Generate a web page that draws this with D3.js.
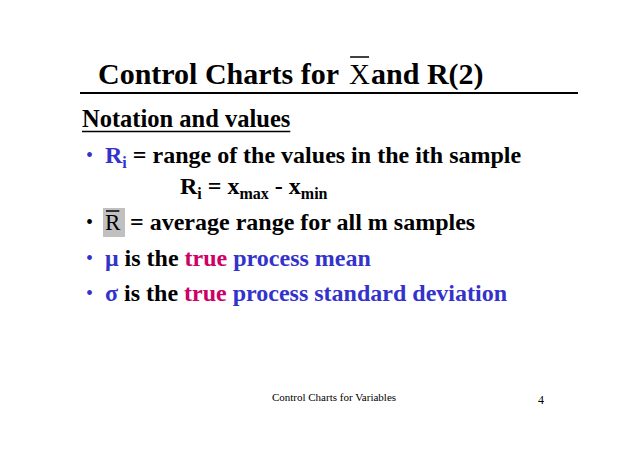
<!DOCTYPE html>
<html>
<head>
<meta charset="utf-8">
<script src="https://cdnjs.cloudflare.com/ajax/libs/d3/7.8.5/d3.min.js"></script>
<style>
  html, body { margin: 0; padding: 0; background: #fff; }
</style>
</head>
<body>
<div id="slide"></div>
<script>
// slide content
var SERIF = '"Liberation Serif", "Times New Roman", serif';
var BLUE = '#3333cc', RED = '#cc0066', BLACK = '#000';

var titleLeft = 'Control Charts for';
var titleSymbol = 'X';
var titleRight = 'and R(2)';
var heading = 'Notation and values';

// each line: bullet colour (null = none), indent, runs of text
var lines = [
    {bullet: BLUE, x: 105, runs: [
        {t: 'R', c: BLUE}, {t: 'i', c: BLUE, sub: true},
        {t: ' = range of the values in the ith sample', c: BLACK}]},
    {bullet: null, x: 180, runs: [
        {t: 'R', c: BLACK}, {t: 'i', c: BLACK, sub: true},
        {t: ' = x', c: BLACK}, {t: 'max', c: BLACK, sub: true},
        {t: ' - x', c: BLACK}, {t: 'min', c: BLACK, sub: true}]},
    {bullet: BLACK, x: 130, runs: [
        {t: '= average range for all m samples', c: BLACK}]},
    {bullet: BLUE, x: 105, runs: [
        {t: 'μ', c: BLUE}, {t: ' is the ', c: BLACK}, {t: 'true', c: RED},
        {t: ' process mean', c: BLUE}]},
    {bullet: BLUE, x: 105, runs: [
        {t: 'σ', c: BLUE}, {t: ' is the ', c: BLACK}, {t: 'true', c: RED},
        {t: ' process standard deviation', c: BLUE}]}
];
var baselines = [163, 194, 230, 266, 301];
var footer = 'Control Charts for Variables';
var pageNo = '4';

var w = 638, h = 451;
var svg = d3.select('#slide').append('svg')
    .attr('width', w)
    .attr('height', h)
    .style('font-family', SERIF);

// title
var t1 = svg.append('text')
    .attr('x', 98).attr('y', 84)
    .attr('font-size', 30).attr('font-weight', 'bold')
    .text(titleLeft);
var xs = 98 + t1.node().getComputedTextLength() + 10;
var t2 = svg.append('text')
    .attr('x', xs).attr('y', 84)
    .attr('font-size', 29)
    .text(titleSymbol);
var xw = t2.node().getComputedTextLength();
svg.append('line')
    .attr('x1', xs + 1).attr('x2', xs + xw - 1)
    .attr('y1', 57).attr('y2', 57)
    .attr('stroke', '#000').attr('stroke-width', 1.5);
svg.append('text')
    .attr('x', xs + xw + 1).attr('y', 84)
    .attr('font-size', 30).attr('font-weight', 'bold')
    .text(titleRight);

svg.append('line')
    .attr('x1', 80).attr('x2', 578)
    .attr('y1', 93).attr('y2', 93)
    .attr('stroke', '#000').attr('stroke-width', 2);

// heading
var hd = svg.append('text')
    .attr('x', 82).attr('y', 127)
    .attr('font-size', 24.5).attr('font-weight', 'bold')
    .text(heading);
var hw = hd.node().getComputedTextLength();
svg.append('line')
    .attr('x1', 82).attr('x2', 82 + hw)
    .attr('y1', 131.5).attr('y2', 131.5)
    .attr('stroke', '#000').attr('stroke-width', 1.5);

// R-bar symbol with grey box on the third line
svg.append('rect')
    .attr('x', 103).attr('y', baselines[2] - 22)
    .attr('width', 22).attr('height', 29)
    .attr('fill', '#c0c0c0');
var rbar = svg.append('text')
    .attr('x', 105).attr('y', baselines[2])
    .attr('font-size', 23)
    .text('R');
var rw = rbar.node().getComputedTextLength();
svg.append('line')
    .attr('x1', 106).attr('x2', 105 + rw - 1)
    .attr('y1', baselines[2] - 19).attr('y2', baselines[2] - 19)
    .attr('stroke', '#000').attr('stroke-width', 1.5);

// bullet lines
lines.forEach(function (ln, i) {
    var y = baselines[i];
    if (ln.bullet) {
        svg.append('text')
            .attr('x', 86).attr('y', y - 1)
            .attr('font-size', 20)
            .attr('fill', ln.bullet)
            .text('•');
    }
    var txt = svg.append('text')
        .attr('x', ln.x).attr('y', y)
        .attr('font-size', 24)
        .attr('font-weight', 'bold')
        .attr('xml:space', 'preserve');
    var down = false;
    ln.runs.forEach(function (r) {
        var dy = 0;
        if (r.sub && !down) { dy = 5; down = true; }
        else if (!r.sub && down) { dy = -5; down = false; }
        txt.append('tspan')
            .attr('dy', dy)
            .attr('font-size', r.sub ? 16 : 24)
            .attr('fill', r.c)
            .text(r.t);
    });
});

// footer
svg.append('text')
    .attr('x', 334).attr('y', 401)
    .attr('text-anchor', 'middle')
    .attr('font-size', 11)
    .text(footer);
svg.append('text')
    .attr('x', 541).attr('y', 404)
    .attr('text-anchor', 'middle')
    .attr('font-size', 12)
    .text(pageNo);
</script>
</body>
</html>
